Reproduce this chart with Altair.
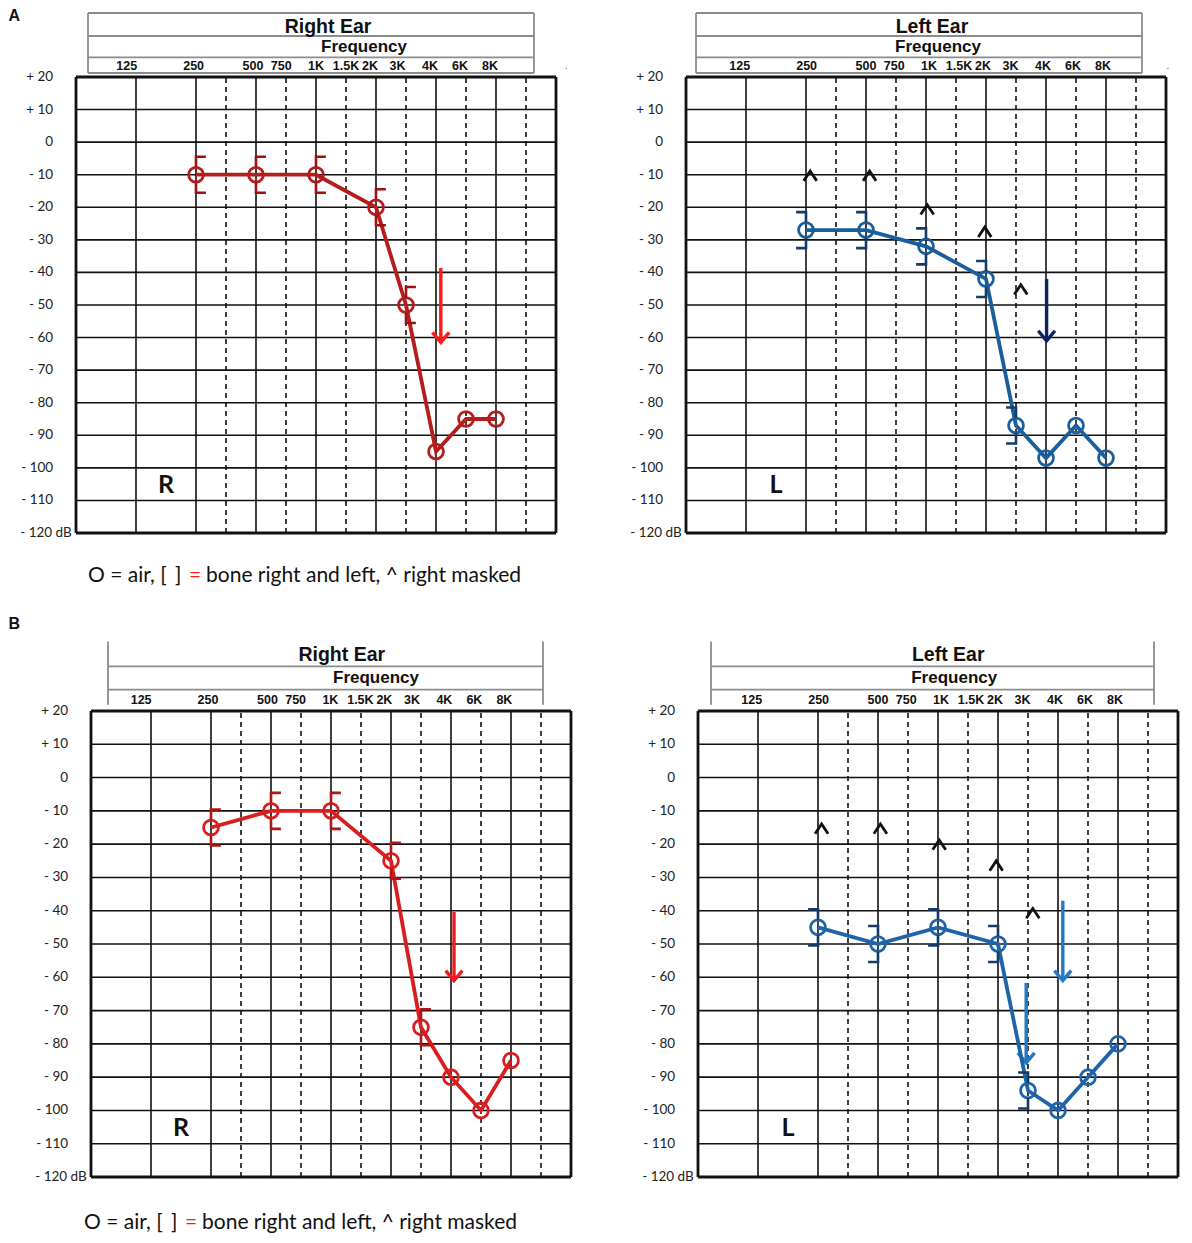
import altair as alt
import pandas as pd

# ---------------- data ----------------
FREQ_LABELS = ["125", "250", "500", "750", "1K", "1.5K", "2K", "3K", "4K", "6K", "8K"]
FREQ_LABEL_POS = [-0.105, 1.01, 2.0, 2.47, 3.05, 3.55, 3.95, 4.41, 4.95, 5.45, 5.95]
DB_TICKS = [20, 10, 0, -10, -20, -30, -40, -50, -60, -70, -80, -90, -100, -110, -120]
DB_LABELS = ["+ 20", "+ 10", "0", "- 10", "- 20", "- 30", "- 40", "- 50", "- 60",
             "- 70", "- 80", "- 90", "- 100", "- 110", "- 120 dB"]
GRID_SOLID = [-1, 0, 1, 2, 3, 4, 5, 6, 7]
GRID_DASHED = [1.5, 2.5, 3.5, 4.5, 5.5, 6.5]

# test frequencies 250, 500, 1K, 2K, 3K, 4K, 6K, 8K on an octave index (125 = 0)
TEST_POS = [1, 2, 3, 4, 4.5, 5, 5.5, 6]
BONE_POS = [1, 2, 3, 4, 4.5]

A_RIGHT_AIR = [-10, -10, -10, -20, -50, -95, -85, -85]
A_RIGHT_BONE = [-10, -10, -10, -20, -50]
A_LEFT_AIR = [-27, -27, -32, -42, -87, -97, -87, -97]
A_LEFT_BONE = [-27, -27, -32, -42, -87]
A_LEFT_MASK_POS = [1.07, 2.06, 3.02, 3.98, 4.58]
A_LEFT_MASK = [-10.4, -10.4, -20.7, -27.6, -45.3]

B_RIGHT_AIR = [-15, -10, -10, -25, -75, -90, -100, -85]
B_RIGHT_BONE = [-15, -10, -10, -25, -75]
B_LEFT_AIR = [-45, -50, -45, -50, -94, -100, -90, -80]
B_LEFT_BONE = [-45, -50, -45, -50, -94]
B_LEFT_MASK_POS = [1.06, 2.04, 3.02, 3.97, 4.58]
B_LEFT_MASK = [-15.4, -15.4, -20.2, -26.5, -40.8]

# arrows: x, start, end
A_RIGHT_ARROWS = [(5.08, -38.6, -61.5)]
A_LEFT_ARROWS = [(5.01, -42.0, -61.0)]
B_RIGHT_ARROWS = [(5.05, -40.4, -61.0)]
B_LEFT_ARROWS = [(5.08, -37.0, -61.0), (4.47, -61.7, -85.7)]

LEGEND_TEXTS = ["O = air, [", "]", "=", "bone right and left, ^ right masked"]
LEGEND_COLORS = ["#111", "#111", "#ff1a1a", "#111"]

BR_RIGHT = "M 0.55 -1 L 0 -1 L 0 -0.42 M 0 0.42 L 0 1 L 0.55 1"
BR_LEFT = "M -0.55 -1 L 0 -1 L 0 -0.42 M 0 0.42 L 0 1 L -0.55 1"
CARET = "M -1 0.75 L 0 -0.75 L 1 0.75"
HEAD = "M -1 -1.2 L 0 0 L 1 -1.2"

BODY_FONT = "Lato"
HEAD_FONT = "Liberation Sans"


def panel(p):
    xs = alt.Scale(domain=p["xdom"], nice=False, zero=False)
    ys = alt.Scale(domain=p["ydom"], nice=False, zero=False)

    def X(f="x"):
        return alt.X(f"{f}:Q", scale=xs, axis=None)

    def Y(f="y"):
        return alt.Y(f"{f}:Q", scale=ys, axis=None)

    sw = alt.StrokeWidth("w:Q", scale=None, legend=None)
    layers = []

    # horizontal grid
    hg = pd.DataFrame({"y": DB_TICKS, "x": -1, "x2": 7,
                       "w": [2.8 if v in (20, -120) else 1.6 for v in DB_TICKS]})
    layers.append(alt.Chart(hg).mark_rule(color="#111").encode(
        x=X(), x2="x2:Q", y=Y(), strokeWidth=sw))
    # vertical solid grid
    vg = pd.DataFrame({"x": GRID_SOLID, "y": -120, "y2": 20,
                       "w": [2.8 if v in (-1, 7) else 1.6 for v in GRID_SOLID]})
    layers.append(alt.Chart(vg).mark_rule(color="#111").encode(
        x=X(), y=Y(), y2="y2:Q", strokeWidth=sw))
    vd = pd.DataFrame({"x": GRID_DASHED, "y": -120, "y2": 20})
    layers.append(alt.Chart(vd).mark_rule(color="#111", strokeWidth=1.6,
                                          strokeDash=[5, 4]).encode(
        x=X(), y=Y(), y2="y2:Q"))

    # header box
    hx0, hx1 = p["hx"]
    hl = p["hlines"]
    rows = [{"x": hx0, "x2": hx1, "y": yy, "y2": yy} for yy in hl["h"]]
    rows += [{"x": xx, "x2": xx, "y": hl["v"][0], "y2": hl["v"][1]} for xx in (hx0, hx1)]
    layers.append(alt.Chart(pd.DataFrame(rows)).mark_rule(
        color="#8c8c8c", strokeWidth=1.8).encode(x=X(), x2="x2:Q", y=Y(), y2="y2:Q"))

    ht = pd.DataFrame({"x": [p["title_x"]], "y": [p["title_y"]], "t": [p["title"]]})
    layers.append(alt.Chart(ht).mark_text(font=HEAD_FONT, fontWeight="bold", fontSize=19.5,
                                          color="#111", baseline="middle").encode(
        x=X(), y=Y(), text="t:N"))
    hf = pd.DataFrame({"x": [p["freq_x"]], "y": [p["freq_y"]], "t": ["Frequency"]})
    layers.append(alt.Chart(hf).mark_text(font=HEAD_FONT, fontWeight="bold", fontSize=17,
                                          color="#111", baseline="middle").encode(
        x=X(), y=Y(), text="t:N"))
    fl = pd.DataFrame({"x": [v + p["lab_dx"] for v in FREQ_LABEL_POS],
                       "y": p["lab_y"], "t": FREQ_LABELS})
    layers.append(alt.Chart(fl).mark_text(font=HEAD_FONT, fontWeight="bold", fontSize=12.5,
                                          color="#111", baseline="middle").encode(
        x=X(), y=Y(), text="t:N"))
    if p.get("dot_x") is not None:
        dot = pd.DataFrame({"x": [p["dot_x"]], "y": [p["lab_y"]], "t": ["."]})
        layers.append(alt.Chart(dot).mark_text(fontSize=10, color="#555",
                                               baseline="middle").encode(
            x=X(), y=Y(), text="t:N"))

    # y labels
    yl = pd.DataFrame({"y": DB_TICKS, "t": DB_LABELS,
                       "x": [-1.07 if v == -120 else -1.38 for v in DB_TICKS]})
    layers.append(alt.Chart(yl).mark_text(font=BODY_FONT, fontSize=13.5, color="#222",
                                          align="right", baseline="middle").encode(
        x=X(), y=Y(), text="t:N"))

    # masked carets
    if p.get("mask_pos"):
        mk = pd.DataFrame({"x": p["mask_pos"], "y": p["mask"]})
        layers.append(alt.Chart(mk).mark_point(shape=CARET, size=170, filled=False,
                                               color="#111", strokeWidth=2.8,
                                               opacity=1).encode(x=X(), y=Y()))

    # arrows
    for (ax, a0, a1), col in zip(p["arrows"], p["arrow_colors"]):
        ad = pd.DataFrame({"x": [ax], "y": [a0], "y2": [a1]})
        layers.append(alt.Chart(ad).mark_rule(color=col, strokeWidth=3.4).encode(
            x=X(), y=Y(), y2="y2:Q"))
        hd = pd.DataFrame({"x": [ax], "y": [a1]})
        layers.append(alt.Chart(hd).mark_point(shape=HEAD, size=280, filled=False,
                                               color=col, strokeWidth=3.4,
                                               opacity=1).encode(x=X(), y=Y()))

    # air line and circles
    air = pd.DataFrame({"x": TEST_POS, "y": p["air"]})
    layers.append(alt.Chart(air).mark_line(color=p["line_color"], strokeWidth=3.8).encode(
        x=X(), y=Y()))
    layers.append(alt.Chart(air).mark_point(shape="circle", size=220, filled=False,
                                            color=p["line_color"], strokeWidth=2.8,
                                            opacity=1).encode(x=X(), y=Y()))
    # bone brackets
    bn = pd.DataFrame({"x": BONE_POS, "y": p["bone"]})
    layers.append(alt.Chart(bn).mark_point(shape=p["bracket"], size=1296, filled=False,
                                           color=p["bracket_color"], strokeWidth=2.6,
                                           opacity=1).encode(x=X(), y=Y()))

    # ear letter
    el = pd.DataFrame({"x": [0.5], "y": [-105.3], "t": [p["ear"]]})
    layers.append(alt.Chart(el).mark_text(font=BODY_FONT, fontWeight="bold", fontSize=25,
                                          color="#111", baseline="middle").encode(
        x=X(), y=Y(), text="t:N"))

    # legend line (left panels only)
    if p.get("legend"):
        lxs, ly = p["legend"]
        lg = pd.DataFrame({"x": lxs, "y": ly, "t": LEGEND_TEXTS, "c": LEGEND_COLORS})
        layers.append(alt.Chart(lg).mark_text(font=BODY_FONT, fontSize=21, align="left",
                                              baseline="middle").encode(
            x=X(), y=Y(), text="t:N", color=alt.Color("c:N", scale=None, legend=None)))
    if p.get("letter"):
        lt, ltx, lty = p["letter"]
        ld = pd.DataFrame({"x": [ltx], "y": [lty], "t": [lt]})
        layers.append(alt.Chart(ld).mark_text(font=HEAD_FONT, fontWeight="bold",
                                              fontSize=16, color="#111",
                                              baseline="middle").encode(
            x=X(), y=Y(), text="t:N"))

    return alt.layer(*layers).properties(width=p["w"], height=p["h"])


A_H = {"h": [39.65, 32.59, 26.05, 21.23], "v": [21.23, 39.65]}
B_H = {"h": [33.4, 26.4], "v": [21.9, 40.9]}
YDOM_A = [-141.49, 40.26]
YDOM_B = [-138.32, 52.44]

AL = panel(dict(xdom=[-2.1333, 8.0667], ydom=YDOM_A, w=612, h=592,
                hx=(-0.8, 6.633), hlines=A_H, title="Right Ear", title_x=3.2, title_y=35.4,
                freq_x=3.8, freq_y=29.1, lab_y=23.3, lab_dx=-0.05, dot_x=7.17,
                air=A_RIGHT_AIR, bone=A_RIGHT_BONE, bracket=BR_RIGHT,
                line_color="#b71c1c", bracket_color="#a01010",
                arrows=A_RIGHT_ARROWS, arrow_colors=["#ff1a1a"], ear="R",
                legend=([-0.8, 0.65, 0.883, 1.167], -133.2), letter=("A", -2.03, 38.7)))
AR = panel(dict(xdom=[-2.1, 7.3], ydom=YDOM_A, w=564, h=592,
                hx=(-0.833, 6.6), hlines=A_H, title="Left Ear", title_x=3.1, title_y=35.4,
                freq_x=3.2, freq_y=29.1, lab_y=23.3, lab_dx=0.0, dot_x=7.03,
                air=A_LEFT_AIR, bone=A_LEFT_BONE, bracket=BR_LEFT,
                mask_pos=A_LEFT_MASK_POS, mask=A_LEFT_MASK,
                line_color="#1b5e9c", bracket_color="#163a66",
                arrows=A_LEFT_ARROWS, arrow_colors=["#0c2461"], ear="L"))
BL = panel(dict(xdom=[-2.3833, 7.8167], ydom=YDOM_B, w=612, h=635,
                hx=(-0.717, 6.533), hlines=B_H, title="Right Ear", title_x=3.18, title_y=36.9,
                freq_x=3.75, freq_y=29.9, lab_y=23.4, lab_dx=-0.06,
                air=B_RIGHT_AIR, bone=B_RIGHT_BONE, bracket=BR_RIGHT,
                line_color="#d81e1e", bracket_color="#b01515",
                arrows=B_RIGHT_ARROWS, arrow_colors=["#ee1c24"], ear="R",
                legend=([-1.117, 0.333, 0.567, 0.85], -133.8), letter=("B", -2.28, 46.1)))
BR = panel(dict(xdom=[-2.3, 7.1], ydom=YDOM_B, w=564, h=635,
                hx=(-0.783, 6.6), hlines=B_H, title="Left Ear", title_x=3.17, title_y=36.9,
                freq_x=3.27, freq_y=29.9, lab_y=23.4, lab_dx=0.0,
                air=B_LEFT_AIR, bone=B_LEFT_BONE, bracket=BR_LEFT,
                mask_pos=B_LEFT_MASK_POS, mask=B_LEFT_MASK,
                line_color="#1f64aa", bracket_color="#163a66",
                arrows=B_LEFT_ARROWS, arrow_colors=["#2179c9", "#2179c9"], ear="L"))

chart = alt.vconcat(
    alt.hconcat(AL, AR, spacing=0),
    alt.hconcat(BL, BR, spacing=0),
    spacing=0,
).properties(padding=0).configure_view(strokeWidth=0)

chart.save("out.html", embed_options={"renderer": "svg", "actions": False})
